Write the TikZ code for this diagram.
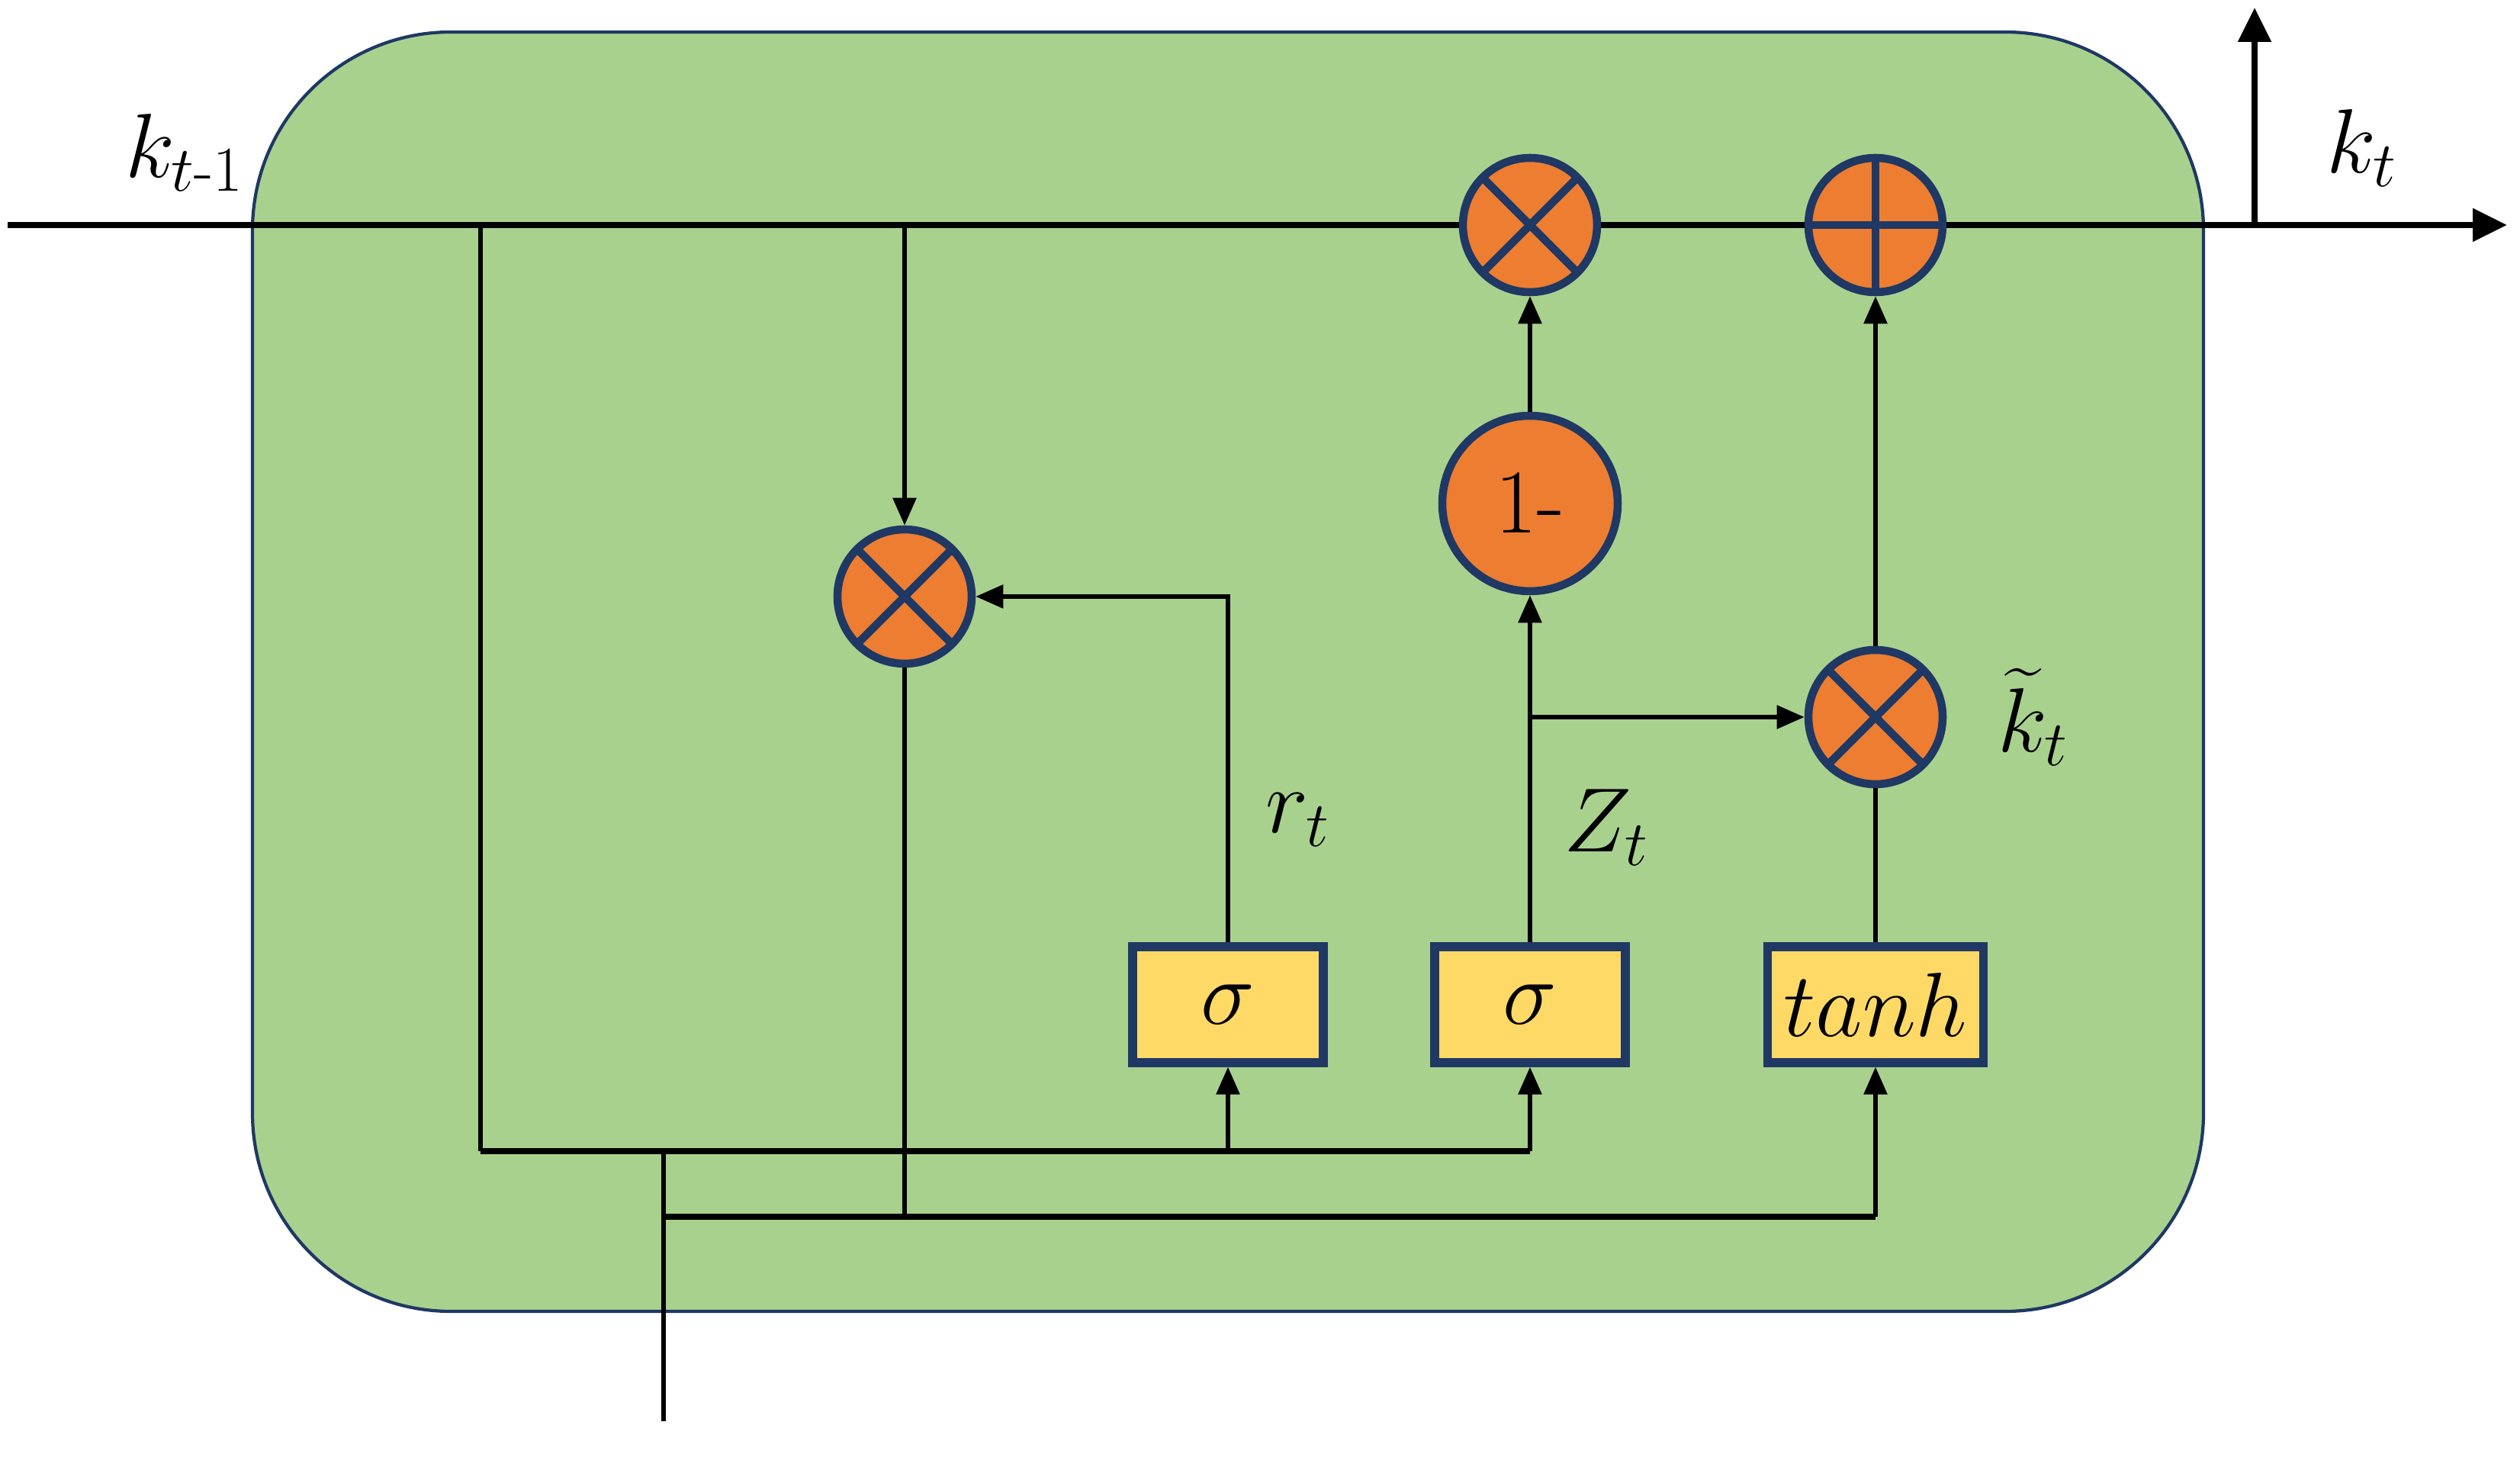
\RequirePackage{fix-cm}
\documentclass[tikz,border=0pt]{standalone}
\usepackage{amsmath}
\usepackage{tikz}
\usetikzlibrary{arrows.meta}
\definecolor{cellgreen}{HTML}{A9D18E}
\definecolor{oporange}{HTML}{ED7D31}
\definecolor{gateyellow}{HTML}{FFD966}
\definecolor{navyline}{HTML}{1F3864}

\begin{document}
\begin{tikzpicture}[font=\fontsize{34}{40}\selectfont, >={Triangle[length=0.36cm,width=0.3cm]}]
		\tikzstyle{every node}+=[inner sep=0pt]
		\tikzstyle{cellbox}=[draw=navyline, fill=cellgreen, line width=1.2pt, rounded corners=2.6cm, minimum width=25.58cm, minimum height=16.77cm]
		\tikzstyle{opnode}=[circle, draw=navyline, fill=oporange, line width=3pt, minimum size=1.76cm]
		\tikzstyle{mulnode}=[opnode, path picture={\draw[navyline, line width=3pt] (path picture bounding box.north west) -- (path picture bounding box.south east) (path picture bounding box.north east) -- (path picture bounding box.south west);}]
		\tikzstyle{addnode}=[opnode, path picture={\draw[navyline, line width=3pt] (path picture bounding box.north) -- (path picture bounding box.south) (path picture bounding box.east) -- (path picture bounding box.west);}]
		\tikzstyle{gatebox}=[draw=navyline, fill=gateyellow, line width=3.2pt, minimum width=2.5cm, minimum height=1.52cm]
		\tikzstyle{wire}=[black, line width=1.6pt]
		\tikzstyle{bus}=[black, line width=2.4pt]
		\useasboundingbox (0,0) rectangle (33.04,-19.44);
		% cell
		\node [cellbox] (cell) at (16.10,-8.805) {};
		% operators
		\node [mulnode] (mforget) at (20.06,-2.95) {};
		\node [addnode] (madd) at (24.59,-2.95) {};
		\node [opnode, minimum size=2.3cm] (oneminus) at (20.06,-6.60) {$\mathrm{1}$-};
		\node [mulnode] (mreset) at (11.86,-7.82) {};
		\node [mulnode] (mcand) at (24.59,-9.40) {};
		% gates
		\node [gatebox] (sreset) at (16.10,-13.17) {$\sigma$};
		\node [gatebox] (supdate) at (20.06,-13.17) {$\sigma$};
		\node [gatebox, minimum width=2.83cm] (tanhbox) at (24.59,-13.17) {$tanh$};
		% labels
		\node (klast) at (2.42,-2.00) {$k_{t\text{-}1}$};
		\node (know) at (30.97,-1.94) {$k_t$};
		\node (rlab) at (17.02,-10.75) {$r_t$};
		\node (zlab) at (21.06,-10.85) {$Z_t$};
		\node (klab) at (26.66,-9.40) {$\widetilde{k}_t$};
		% points
		\coordinate (kin) at (0.1,-2.95);
		\coordinate (kout) at (32.87,-2.95);
		\coordinate (kup) at (29.56,-0.1);
		\coordinate (jleft) at (6.30,-2.95);
		\coordinate (jreset) at (11.86,-2.95);
		\coordinate (bone) at (6.30,-15.09);
		\coordinate (xin) at (8.70,-18.63);
		\coordinate (btwo) at (8.70,-15.95);
		% main line
		\draw [bus] (kin) -- (mforget);
		\draw [bus] (mforget) -- (madd);
		\draw [bus, -{Triangle[length=0.45cm,width=0.42cm]}] (madd) -- (kout);
		\draw [bus, -{Triangle[length=0.45cm,width=0.42cm]}] (kup |- kout) -- (kup);
		% left branches
		\draw [wire] (jleft) -- (bone);
		\draw [bus] (bone) -- (supdate.south |- bone);
		\draw [wire, ->] (sreset.south |- bone) -- (sreset.south);
		\draw [wire, ->] (supdate.south |- bone) -- (supdate.south);
		\draw [wire, ->] (jreset) -- (mreset.north);
		\draw [wire] (mreset.south) -- (mreset.south |- btwo);
		\draw [wire] (xin) -- (xin |- bone);
		\draw [bus] (btwo) -- (tanhbox.south |- btwo);
		\draw [wire, ->] (tanhbox.south |- btwo) -- (tanhbox.south);
		% gate outputs
		\draw [wire, ->] (sreset.north) |- (mreset.east);
		\draw [wire, ->] (supdate.north) -- (oneminus.south);
		\draw [wire, ->] (supdate.north |- mcand) -- (mcand.west);
		\draw [wire, ->] (oneminus.north) -- (mforget.south);
		\draw [wire] (tanhbox.north) -- (mcand.south);
		\draw [wire, ->] (mcand.north) -- (madd.south);
\end{tikzpicture}
\end{document}
